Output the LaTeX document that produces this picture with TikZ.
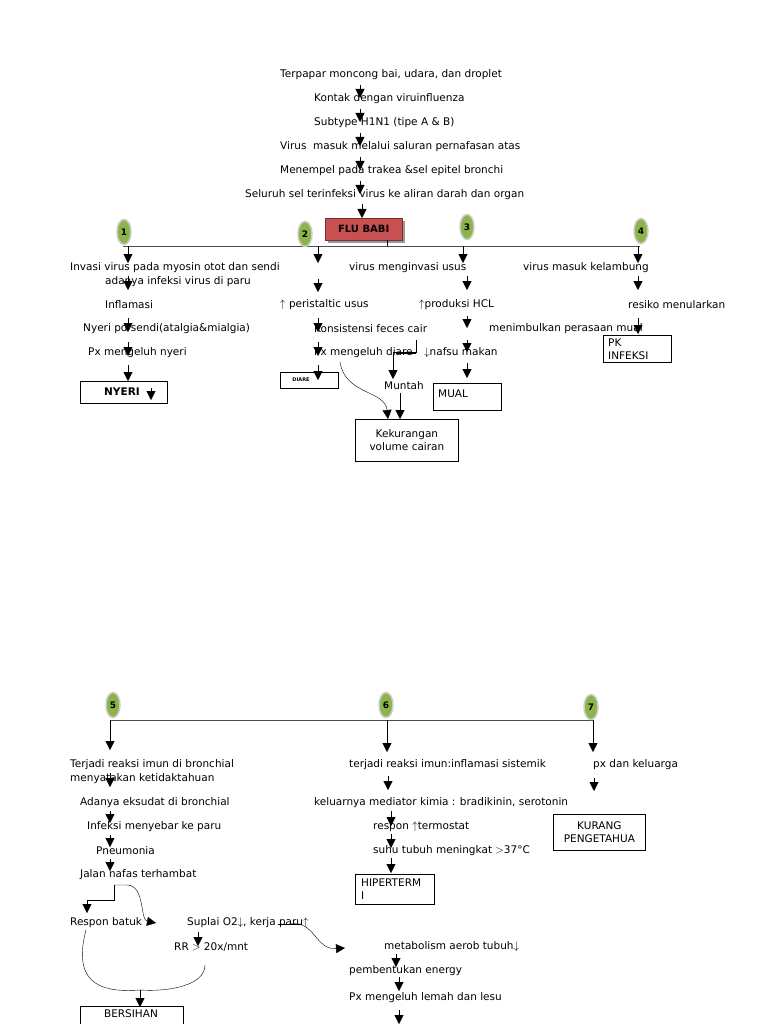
\documentclass[tikz,border=0pt]{standalone}
\usepackage{fontspec}
\setmainfont{DejaVu Sans}
\usetikzlibrary{arrows.meta,shapes.geometric}
\definecolor{leaf}{RGB}{140,180,75}
\definecolor{flured}{RGB}{200,80,80}
\begin{document}
\begin{tikzpicture}[x=1pt,y=-1pt,
  txt/.style={anchor=west,inner sep=0pt,font=\fontsize{10.5}{12.5}\selectfont},
  box/.style={draw,thick,anchor=north west,inner sep=0pt,font=\fontsize{10.5}{13}\selectfont},
  num/.style={ellipse,fill=leaf,draw=gray!40,line width=1.5pt,minimum width=14pt,minimum height=25pt,inner sep=0pt,font=\bfseries\fontsize{9}{10}\selectfont},
  ar/.style={-{Triangle[length=9pt,width=9pt]}},
  ln/.style={draw=black!70,line width=1pt}]
\useasboundingbox (0,0) rectangle (768,1024);
\newcommand{\arr}[3]{\draw[ar] (#1,#2) -- (#1,#3);}
% top chain
\node[txt] (t1) at (280,75) {Terpapar moncong bai, udara, dan droplet};
\node[txt] (t2) at (314,99) {Kontak dengan viruinfluenza};
\node[txt] (t3) at (314,123) {Subtype H1N1 (tipe A \& B)};
\node[txt] (t4) at (280,147) {Virus \ masuk melalui saluran pernafasan atas};
\node[txt] (t5) at (280,171) {Menempel pada trakea \&sel epitel bronchi};
\node[txt] (t6) at (245,195) {Seluruh sel terinfeksi virus ke aliran darah dan organ};
\arr{360}{85}{98}\arr{360}{109}{122}\arr{360}{133}{146}\arr{360}{157}{170}\arr{360}{181}{194}\arr{362}{204}{218}
\fill[black!40] (328,221) rectangle (405,243);
\node[draw=flured!60!black,fill=flured,minimum width=77pt,minimum height=22pt,inner sep=0pt,anchor=north west,font=\bfseries\fontsize{10}{11}\selectfont] (flu) at (325,218) {FLU BABI};
\draw[ln] (123,246) -- (640,246);
\draw (387,240) -- (387,246);
\node[num] (n1) at (124,232) {1};
\node[num] (n2) at (305,234) {2};
\node[num] (n3) at (467,227) {3};
\node[num] (n4) at (641,231) {4};
\arr{128}{246}{263}\arr{318}{246}{263}\arr{463}{246}{263}\arr{638}{246}{263}
% column 1
\node[txt] (a1) at (70,268) {Invasi virus pada myosin otot dan sendi};
\node[txt] (a2) at (105,282) {adanya infeksi virus di paru};
\node[txt] (a3) at (105,305) {Inflamasi};
\node[txt] (a4) at (83,329) {Nyeri pd sendi(atalgia\&mialgia)};
\node[txt] (a5) at (88,353) {Px mengeluh nyeri};
\arr{128}{276}{290}\arr{128}{318}{332}\arr{128}{342}{356}\arr{128}{365}{381}
\node[box,minimum width=87pt,minimum height=22pt] (nyeri) at (80,381) {};
\node[anchor=west,inner sep=0pt,font=\bfseries\fontsize{10.5}{12}\selectfont] at (104,392) {NYERI};
\arr{151}{388}{400}
% column 2
\arr{318}{279}{292}
\node[txt] (b1) at (280,305) {$\uparrow$ peristaltic usus};
\node[txt] (b2) at (314,329) {Konsistensi feces cair};
\node[txt] (b3) at (314,353) {Px mengeluh diare};
\arr{318}{318}{332}\arr{318}{342}{356}\arr{318}{365}{380}
\node[box,minimum width=58pt,minimum height=16pt] (diare) at (280,372) {};
\node[font=\bfseries\fontsize{5}{6}\selectfont] at (301,380) {DIARE};
\draw (396,353) -- (416,353);
\draw (416,340) -- (416,352) -- (393,352);
\draw[ar] (393,352) -- (393,379);
\node[txt] (mun) at (384,386) {Muntah};
\arr{400}{393}{419}
\draw[ar] (340,362) .. controls (345,395) and (385,390) .. (388,419);
\node[box,minimum width=103pt,minimum height=42pt,align=center] (kek) at (355,419) {Kekurangan\\volume cairan};
% column 3
\node[txt] (c1) at (349,268) {virus menginvasi usus};
\node[txt] (c2) at (419,305) {$\uparrow$produksi HCL};
\node[txt] (c3) at (489,329) {menimbulkan perasaan mual};
\node[txt] (c4) at (424,353) {$\downarrow$nafsu makan};
\arr{467}{276}{290}\arr{467}{316}{328}\arr{467}{340}{352}\arr{467}{363}{378}
\node[box,minimum width=68pt,minimum height=27pt] (mual) at (433,383) {};
\node[txt] at (438,394) {MUAL};
% column 4
\node[txt] (d1) at (523,268) {virus masuk kelambung};
\node[txt] (d2) at (628,305) {resiko menularkan};
\arr{638}{276}{290}\arr{638}{318}{334}
\node[box,fill=white,minimum width=68pt,minimum height=27pt] (pk) at (603,335) {};
\begin{scope}
\clip (603,335) rectangle (671,362);
\node[txt,align=left,anchor=north west] at (608,339) {PK\\INFEKSI};
\end{scope}
% bottom part
\draw[ln] (110,720) -- (593,720);
\node[num] (n5) at (113,705) {5};
\node[num] (n6) at (386,705) {6};
\node[num] (n7) at (591,707) {7};
\arr{110}{720}{750}\arr{387}{720}{752}\arr{593}{720}{752}
% column 5
\node[txt] (e1) at (70,765) {Terjadi reaksi imun di bronchial};
\node[txt] (e2) at (70,779) {menyatakan ketidaktahuan};
\node[txt] (e3) at (80,803) {Adanya eksudat di bronchial};
\node[txt] (e4) at (87,827) {Infeksi menyebar ke paru};
\node[txt] (e5) at (96,851) {Pneumonia};
\node[txt] (e6) at (80,875) {Jalan nafas terhambat};
\arr{110}{773}{787}\arr{110}{811}{823}\arr{110}{835}{847}\arr{110}{859}{871}
\draw (114,885) -- (114,900) -- (87,900);
\draw[ar] (87,900) -- (87,913);
\draw[ar] (114,885) -- (127,885) .. controls (145,885) and (140,920) .. (156,923);
\node[txt] (e7) at (70,923) {Respon batuk};
\node[txt] (e8) at (187,923) {Suplai O2$\downarrow$, kerja paru$\uparrow$};
\draw (278,924) -- (302,924);
\arr{198}{932}{946}
\node[txt] (e9) at (174,947) {RR $>$ 20x/mnt};
\draw[ar] (290,924) .. controls (315,920) and (315,950) .. (345,948);
\draw (86,930) .. controls (70,990) and (110,992) .. (140,990);
\draw (205,965) .. controls (205,985) and (170,992) .. (140,990);
\arr{140}{990}{1007}
\node[box,minimum width=103pt,minimum height=30pt] (bers) at (80,1006) {};
\node at (131,1014) {\fontsize{10.5}{12}\selectfont BERSIHAN};
% column 6
\node[txt] (f1) at (349,765) {terjadi reaksi imun:inflamasi sistemik};
\node[txt] (f2) at (314,803) {keluarnya mediator kimia : bradikinin, serotonin};
\node[txt] (f3) at (373,827) {respon $\uparrow$termostat};
\node[txt] (f4) at (373,851) {suhu tubuh meningkat $>$37°C};
\arr{388}{776}{790}\arr{391}{811}{826}\arr{391}{834}{848}\arr{391}{858}{873}
\node[box,minimum width=79pt,minimum height=30pt] (hip) at (355,874) {};
\node[txt,anchor=north west,align=left] at (361,879) {HIPERTERM\\I};
\node[txt] (g1) at (384,947) {metabolism aerob tubuh$\downarrow$};
\node[txt] (g2) at (349,971) {pembentukan energy};
\node[txt] (g3) at (349,998) {Px mengeluh lemah dan lesu};
\arr{396}{954}{967}\arr{399}{977}{991}\arr{399}{1010}{1024}
% column 7
\node[txt] (h1) at (593,765) {px dan keluarga};
\arr{594}{778}{791}
\node[box,minimum width=92pt,minimum height=36pt,align=center] (kur) at (553,814) {KURANG\\PENGETAHUA};
\end{tikzpicture}
\end{document}
